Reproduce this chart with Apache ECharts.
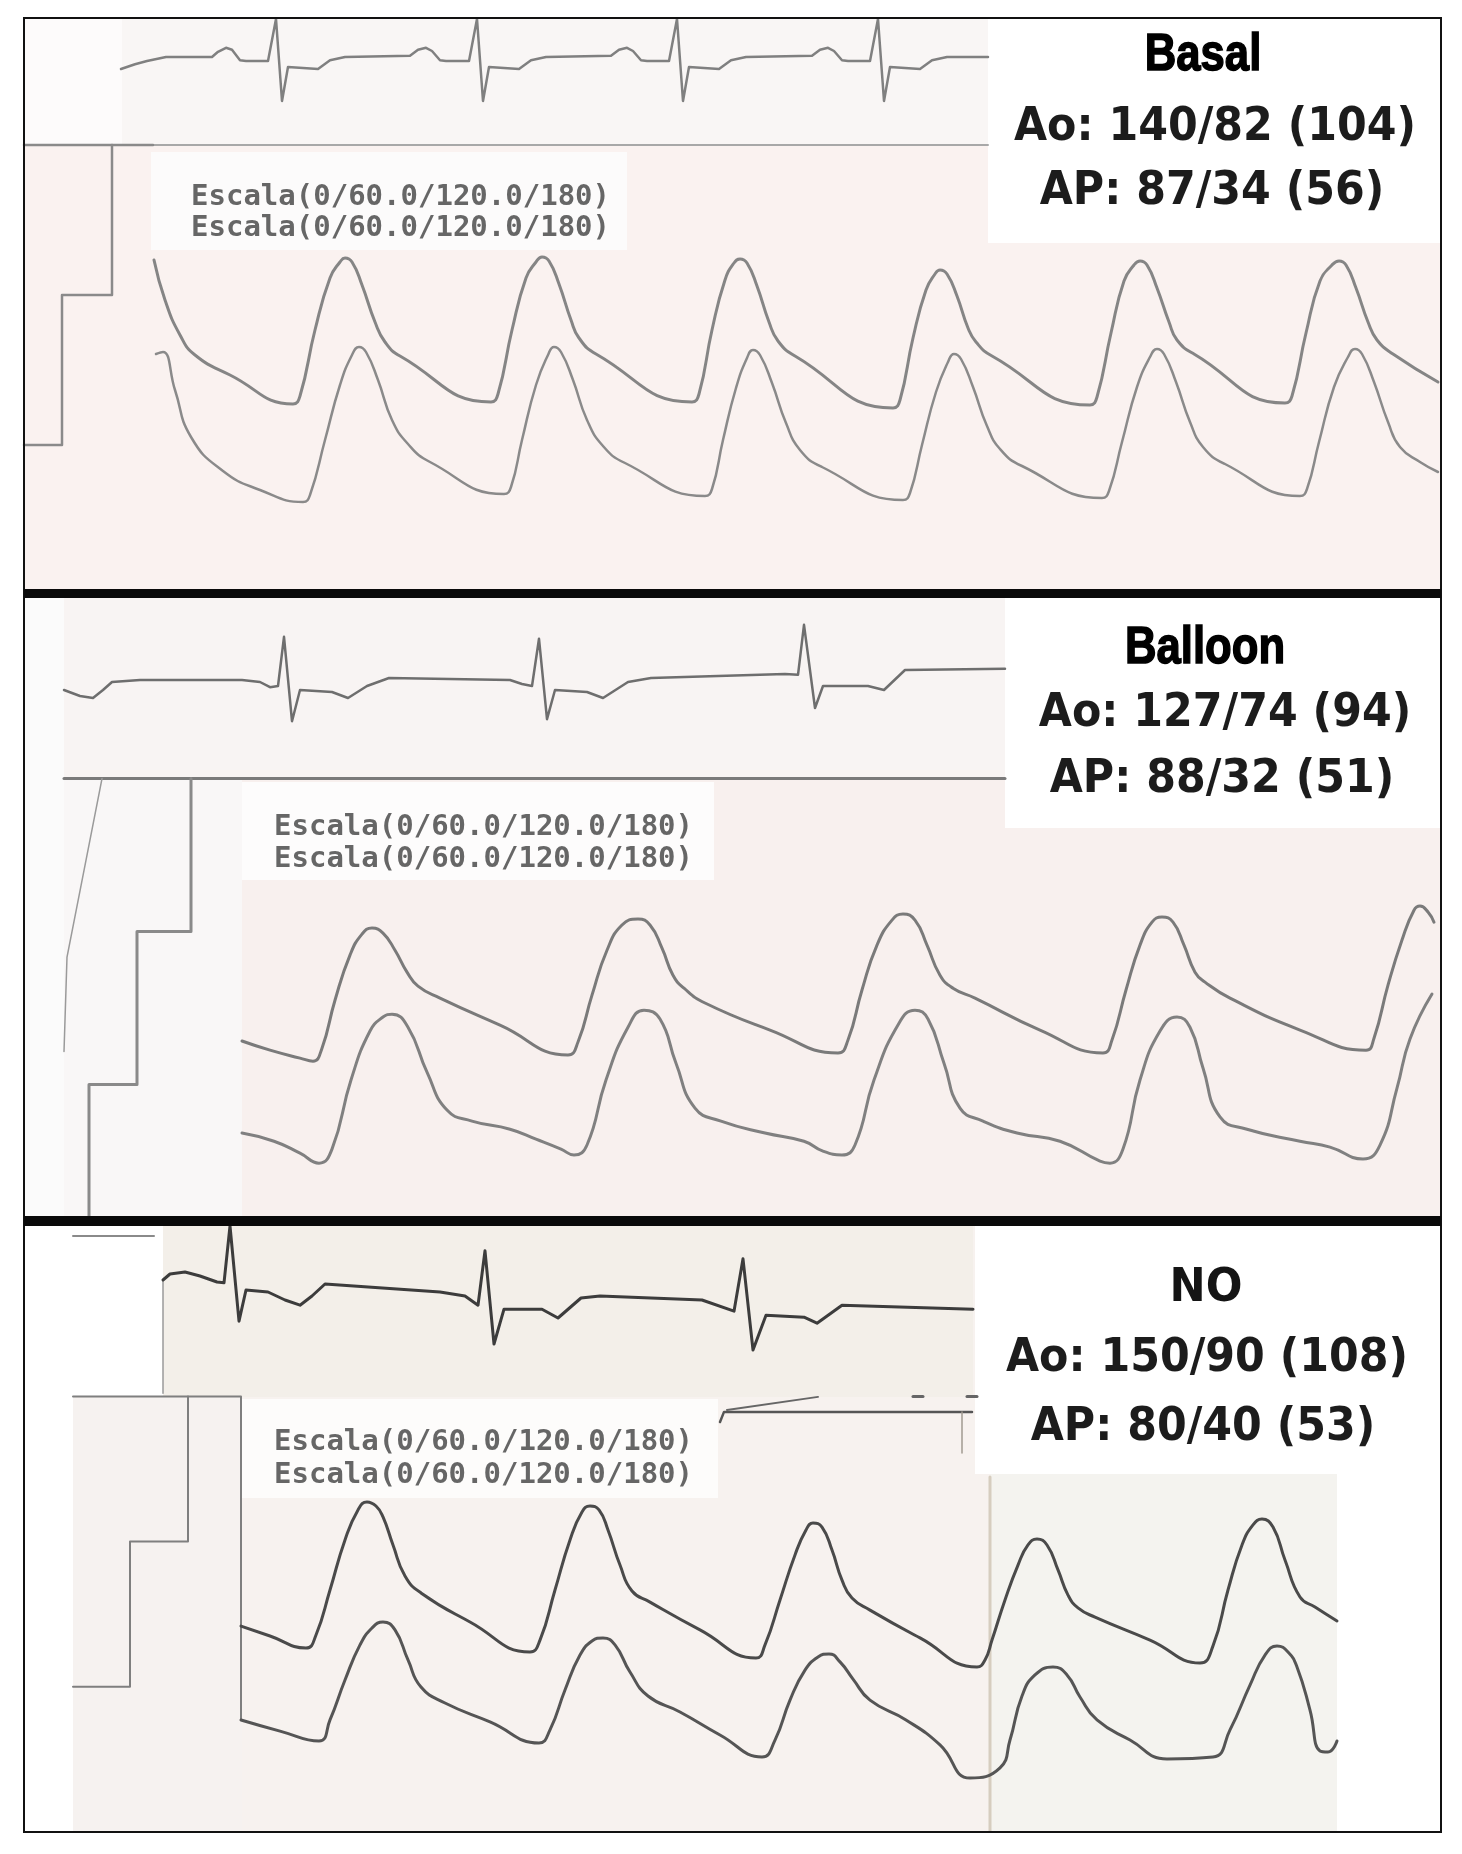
<!DOCTYPE html>
<html>
<head>
<meta charset="utf-8">
<script src="https://cdn.jsdelivr.net/npm/echarts@6.0.0/dist/echarts.min.js"></script>
<style>
  html, body { margin: 0; padding: 0; background: #fff; }
  #chart { width: 1462px; height: 1854px; }
</style>
</head>
<body>
<div id="chart"></div>
<script>
// x = time in ms, ECG in mV, pressures in mmHg (scale 0/60/120/180)
const panelTitles = ['Basal', 'Balloon', 'NO'];
const aoLabels = ['Ao: 140/82 (104)', 'Ao: 127/74 (94)', 'Ao: 150/90 (108)'];
const apLabels = ['AP: 87/34 (56)', 'AP: 88/32 (51)', 'AP: 80/40 (53)'];
const scaleText = 'Escala(0/60.0/120.0/180)';

// ---- Basal ----
const basalEcg = [[388,-0.3],[444,-0.18],[492,-0.1],[568,0],[752,0],[776,0.13],[808,0.23],[832,0.18],[864,-0.08],[888,-0.1],[976,-0.1],[1008,0.95],[1032,-1.1],[1056,-0.25],[1176,-0.3],[1224,-0.08],[1284,0],[1544,0.03],[1576,0.18],[1608,0.23],[1632,0.15],[1664,-0.08],[1688,-0.1],[1780,-0.1],[1812,0.95],[1836,-1.1],[1860,-0.25],[1980,-0.3],[2028,-0.08],[2088,0],[2348,0.03],[2380,0.18],[2412,0.23],[2436,0.15],[2468,-0.08],[2492,-0.1],[2580,-0.1],[2612,0.95],[2636,-1.1],[2660,-0.25],[2780,-0.3],[2828,-0.08],[2888,0],[3152,0.03],[3184,0.18],[3216,0.23],[3240,0.15],[3272,-0.08],[3296,-0.1],[3384,-0.1],[3416,0.95],[3440,-1.1],[3464,-0.25],[3584,-0.3],[3632,-0.08],[3692,0],[3856,0]];
const basalAo = [[520,134],[564,118],[624,104],[684,96],[824,88],[1076,76.4],[1104,79.6],[1164,106],[1224,126.8],[1264,133.2],[1284,134.8],[1312,133.2],[1352,124],[1404,109.2],[1444,101.2],[1504,95.6],[1868,77.2],[1896,80.4],[1952,106],[2008,126.8],[2048,133.2],[2072,135.2],[2100,133.6],[2140,124.4],[2188,110],[2220,102.8],[2288,96.4],[2672,77.2],[2700,80.4],[2752,106],[2804,126],[2840,132.8],[2864,134.4],[2892,132.8],[2932,123.6],[2980,109.2],[3016,101.6],[3084,95.6],[3476,74.8],[3504,78],[3556,102.8],[3608,122],[3644,128.4],[3664,130],[3692,128.4],[3732,119.6],[3776,106.8],[3808,101.2],[3872,95.6],[4264,76],[4292,79.2],[4348,104.8],[4400,125.6],[4440,132],[4464,133.6],[4492,132],[4532,122.8],[4580,109.2],[4612,102],[4680,96.4],[5044,76.8],[5072,79.6],[5128,104.8],[5184,125.6],[5232,132],[5260,133.6],[5288,132],[5328,122.8],[5376,109.2],[5412,102],[5476,96.4],[5656,85.2]];
const basalAp = [[528,96.4],[556,97.2],[604,82],[668,63.2],[796,49.6],[944,42],[1116,37.2],[1144,40],[1204,62],[1264,84],[1312,96],[1340,99.2],[1368,97.2],[1416,86],[1472,70],[1536,60.4],[1624,53.2],[1920,40.4],[1948,43.2],[1992,62],[2048,84],[2096,96],[2120,99.2],[2148,97.2],[2196,86],[2252,70],[2316,59.6],[2404,52.8],[2724,39.6],[2752,42.4],[2796,62],[2848,82.8],[2892,94.8],[2916,98],[2944,96],[2992,84.8],[3048,68.8],[3104,58],[3192,51.2],[3516,38],[3544,40.8],[3592,60],[3648,81.2],[3696,93.2],[3720,96.4],[3748,94.4],[3796,83.2],[3852,67.6],[3904,58.4],[3992,51.6],[4312,38.8],[4340,41.6],[4392,61.2],[4452,83.2],[4504,95.2],[4532,98.4],[4560,96.4],[4608,85.2],[4664,69.2],[4716,59.2],[4804,52.4],[5104,39.6],[5132,42.4],[5180,61.2],[5240,83.2],[5296,95.2],[5324,98.4],[5352,96.4],[5400,85.2],[5456,69.2],[5504,59.2],[5584,53.2],[5656,49.2]];
const basalSteps = [[0,60],[152,60],[152,120],[352,120],[352,180]];
const basalScaleTop = [[0,180],[516,180]];
const basalScaleLine = [[516,180],[3856,180]];

// ---- Balloon ----
const balloonEcg = [[160,-0.25],[224,-0.4],[276,-0.45],[316,-0.25],[352,-0.05],[464,0],[872,0],[944,-0.05],[984,-0.18],[1016,-0.15],[1040,1.08],[1072,-1.03],[1104,-0.25],[1232,-0.3],[1296,-0.45],[1372,-0.15],[1460,0.05],[1944,0],[1992,-0.1],[2032,-0.15],[2060,1.03],[2092,-0.98],[2124,-0.25],[2252,-0.3],[2316,-0.45],[2416,-0.05],[2508,0.05],[3044,0.15],[3096,0.13],[3120,1.38],[3164,-0.7],[3196,-0.15],[3376,-0.15],[3440,-0.25],[3524,0.25],[3924,0.28]];
const balloonAo = [[872,77.1],[984,73.5],[1104,70.4],[1156,69.2],[1192,74.3],[1244,93.1],[1304,110.8],[1352,119],[1392,121.4],[1436,119.4],[1484,112.7],[1532,104.1],[1576,98.6],[1664,93.9],[1904,83.3],[2176,71.6],[2216,76.7],[2272,95.1],[2332,112.7],[2392,122.6],[2456,124.9],[2504,122.6],[2552,113.5],[2596,102.9],[2640,97.8],[2724,92],[2984,81.4],[3256,72.4],[3296,77.5],[3352,97.1],[3412,114.7],[3472,124.5],[3516,126.9],[3564,124.5],[3612,114.7],[3664,102.9],[3716,97.8],[3804,93.9],[4064,81.4],[4316,72.4],[4352,77.5],[4408,97.1],[4464,114.7],[4512,123.7],[4552,125.7],[4596,123.7],[4640,114.7],[4684,104.1],[4724,100.2],[4824,93.9],[5104,81.4],[5368,73.5],[5400,78.2],[5456,99],[5512,116.7],[5560,128.4],[5584,130],[5616,127.7],[5640,123.7]];
const balloonAp = [[872,41],[1000,37.8],[1104,33.1],[1180,29.2],[1232,34.7],[1308,61.8],[1384,81],[1436,86.5],[1472,87.6],[1536,82.5],[1612,64.9],[1692,50],[1792,45.7],[1944,42.5],[2048,38.6],[2148,34.7],[2200,32.4],[2252,36.3],[2328,61.8],[2416,82.5],[2480,89.2],[2544,85.7],[2608,68.4],[2684,50.8],[2788,45.7],[2964,41],[3120,37.8],[3196,33.9],[3272,32.4],[3324,36.3],[3400,61.8],[3500,84.1],[3564,89.2],[3616,85.7],[3680,68.4],[3744,50.8],[3836,45.7],[3972,41],[4144,37.8],[4304,30],[4344,29.2],[4396,34.7],[4464,61.8],[4544,81],[4612,86.5],[4664,82.5],[4716,66.5],[4784,47.3],[4892,42.5],[5104,37.8],[5224,35.5],[5356,30.8],[5424,36.3],[5492,58.6],[5544,77.9],[5632,95.5]];
const balloonSteps = [[260,7.6],[260,60],[452,60],[452,120],[668,120],[668,180]];
const balloonScaleLine = [[160,180],[3924,180]];
const balloonDrift = [[312,180],[172,110],[160,73]];

// ---- NO ----
const noEcg = [[556,0.3],[584,0.45],[644,0.5],[704,0.4],[772,0.25],[800,0.23],[824,1.65],[860,-0.73],[888,0.05],[976,0],[1044,-0.2],[1104,-0.33],[1152,-0.1],[1204,0.2],[1664,0],[1764,-0.1],[1816,-0.33],[1844,1.03],[1880,-1.3],[1920,-0.43],[2072,-0.43],[2136,-0.65],[2228,-0.15],[2304,-0.1],[2712,-0.2],[2840,-0.48],[2876,0.83],[2916,-1.45],[2968,-0.58],[3120,-0.63],[3172,-0.78],[3272,-0.33],[3796,-0.43]];
const noAo = [[868,85.1],[984,81],[1128,76],[1168,81.4],[1224,100],[1284,120.7],[1336,133.1],[1372,136.4],[1408,134.7],[1436,130.2],[1476,118.6],[1524,105.8],[1588,98.8],[1784,86.8],[2024,74.4],[2064,79.3],[2124,100],[2184,120.7],[2232,132.2],[2264,134.7],[2300,133.1],[2336,124.8],[2384,110.3],[2432,99.6],[2504,95],[2704,83.5],[2928,71.9],[2964,77.3],[3024,95.9],[3084,114.5],[3128,124.8],[3156,127.7],[3192,126],[3232,116.5],[3272,104.1],[3312,96.7],[3384,91.7],[3584,80.2],[3812,68.2],[3844,71.1],[3872,79.3],[3924,95.9],[3976,110.3],[4016,118.6],[4052,121.1],[4092,118.6],[4136,108.3],[4176,97.9],[4216,92.6],[4284,88.8],[4504,79.3],[4704,69.8],[4756,76.9],[4816,100],[4872,118.6],[4916,126.9],[4952,129.3],[4996,126],[5044,112.4],[5104,97.1],[5164,93],[5252,87.2]];
const noAp = [[868,46.3],[1024,41.7],[1180,37.6],[1224,46.3],[1284,62.8],[1344,77.3],[1392,84.3],[1436,86.8],[1484,83.5],[1536,71.1],[1588,59.9],[1684,53.3],[1864,45.5],[2060,36.8],[2104,42.2],[2164,58.7],[2224,73.1],[2272,78.9],[2316,80.2],[2364,77.3],[2424,66.1],[2496,56.2],[2624,49.6],[2784,40.1],[2952,31],[3004,38],[3064,54.5],[3124,66.9],[3176,72.3],[3220,73.6],[3264,70.3],[3316,63.2],[3384,54.5],[3528,46.3],[3664,36],[3784,22.3],[3904,26.5],[3944,38],[3992,56.2],[4044,64.9],[4116,68.2],[4172,64.9],[4224,55.8],[4292,46.3],[4424,38],[4572,30.2],[4756,31],[4824,42.2],[4904,60.7],[4964,73.1],[5012,76.9],[5056,74.4],[5092,68.2],[5144,50.4],[5184,33.5],[5216,33.1],[5252,37.6]];
const noSteps = [[196,60],[424,60],[424,120],[656,120],[656,180]];
const noScaleTop = [[196,180],[868,180],[868,46.3]];
const noMarker = [[2784,169.4],[2800,173.6],[3792,173.6]];
const noMarkerSlope = [[2812,174.4],[3176,179.8]];
const noTickA = [[3556,180],[3596,180]];
const noTickB = [[3772,180],[3812,180]];
const noTickV = [[3752,173.6],[3752,156.6]];
const noPaperEdge = [[3864,146.7],[3864,0.4]];
const noEcgEdge = [[556,0.3],[556,-2.53]];
const noEcgTopLeft = [[196,1.4],[520,1.4]];

// ---- chart ----
const grids = [], xAxes = [], yAxes = [], series = [];

function addGrid(top, height, min, max) {
  const i = grids.length;
  grids.push({ left: 24, top: top, width: 1417, height: height });
  xAxes.push({ type: 'value', gridIndex: i, min: 0, max: 5668, show: false });
  yAxes.push({ type: 'value', gridIndex: i, min: min, max: max, show: false });
  return i;
}

function addLine(gi, data, color, width, smooth) {
  series.push({
    type: 'line', xAxisIndex: gi, yAxisIndex: gi, data: data,
    symbol: 'none', silent: true, clip: false,
    smooth: smooth || false,
    lineStyle: { color: color, width: width, cap: 'round', join: 'round' }
  });
}

// Basal
let g = addGrid(17, 100, -1.5, 1);
addLine(g, basalEcg, '#808080', 2.5);
g = addGrid(145, 450, 0, 180);
addLine(g, basalScaleLine, '#a8a8a8', 2);
addLine(g, basalScaleTop, '#8a8a8a', 2.5);
addLine(g, basalSteps, '#8a8a8a', 2.5);
addLine(g, basalAo, '#858585', 3, 0.5);
addLine(g, basalAp, '#8a8a8a', 2.5, 0.5);

// Balloon
g = addGrid(620, 140, -2, 1.5);
addLine(g, balloonEcg, '#6e6e6e', 2.5);
g = addGrid(778.6, 459, 0, 180);
addLine(g, balloonScaleLine, '#7a7a7a', 3);
addLine(g, balloonSteps, '#8a8a8a', 3);
addLine(g, balloonDrift, '#9a9a9a', 1.5);
addLine(g, balloonAo, '#7a7a7a', 3, 0.5);
addLine(g, balloonAp, '#808080', 3, 0.5);

// NO
g = addGrid(1212, 200, -3, 2);
addLine(g, noEcgTopLeft, '#8a8a8a', 2);
addLine(g, noEcgEdge, '#9a9a9a', 1.5);
addLine(g, noEcg, '#3c3c3c', 3);
g = addGrid(1396.4, 435.6, 0, 180);
addLine(g, noPaperEdge, '#d6cdbf', 3);
addLine(g, noScaleTop, '#7f7f7f', 2);
addLine(g, noSteps, '#7f7f7f', 2);
addLine(g, noMarker, '#555555', 2.5);
addLine(g, noMarkerSlope, '#666666', 2);
addLine(g, noTickA, '#666666', 3);
addLine(g, noTickB, '#666666', 3);
addLine(g, noTickV, '#a09a90', 1.5);
addLine(g, noAo, '#4a4a4a', 3, 0.5);
addLine(g, noAp, '#555555', 3, 0.5);

// paper backgrounds (under the traces)
function rect(x, y, w, h, fill) {
  return { type: 'rect', z: 0, silent: true, shape: { x: x, y: y, width: w, height: h }, style: { fill: fill } };
}
const backgrounds = [
  rect(24, 18, 1417, 571, '#faf2f0'),
  rect(24, 18, 98, 127, '#fdfbfb'),
  rect(122, 18, 866, 127, '#f9f6f5'),
  rect(151, 152, 476, 98, '#fcfbfb'),
  rect(988, 18, 453, 225, '#ffffff'),
  rect(24, 598, 1417, 618, '#f8f0ee'),
  rect(64, 598, 941, 181, '#f8f4f3'),
  rect(24, 598, 40, 618, '#fbfbfb'),
  rect(64, 779, 178, 437, '#f9f7f7'),
  rect(242, 782, 472, 98, '#fdfcfc'),
  rect(1005, 598, 436, 230, '#ffffff'),
  rect(24, 1226, 1417, 606, '#f7f2ef'),
  rect(24, 1226, 139, 171, '#ffffff'),
  rect(24, 1397, 49, 435, '#ffffff'),
  rect(163, 1226, 810, 171, '#f3efe9'),
  rect(73, 1397, 169, 435, '#f6f2f0'),
  rect(242, 1399, 476, 99, '#fdfcfb'),
  rect(990, 1474, 347, 358, '#f4f3ef'),
  rect(1337, 1474, 104, 358, '#ffffff'),
  rect(975, 1226, 466, 248, '#ffffff')
];

// frame and separators on top
const frame = [
  { type: 'rect', z: 100, silent: true, shape: { x: 24, y: 18, width: 1417, height: 1814 }, style: { fill: 'none', stroke: '#111', lineWidth: 2 } },
  { type: 'rect', z: 100, silent: true, shape: { x: 24, y: 589, width: 1417, height: 9 }, style: { fill: '#0a0a0a' } },
  { type: 'rect', z: 100, silent: true, shape: { x: 24, y: 1216, width: 1417, height: 10 }, style: { fill: '#0a0a0a' } }
];

function text(str, x, y, font, fill, align, sx, stroke) {
  const style = { text: str, font: font, fill: fill, textAlign: align || 'center', textVerticalAlign: 'middle' };
  if (stroke) { style.stroke = fill; style.lineWidth = stroke; }
  return { type: 'text', z: 101, silent: true, x: x, y: y, scaleX: sx || 1, style: style };
}
const titleFont = 'bold 52px "Liberation Sans", Arial, sans-serif';
const valueFont = 'bold 47px "DejaVu Sans", Verdana, sans-serif';
const monoFont = 'bold 29px "DejaVu Sans Mono", "Liberation Mono", monospace';

const labelPos = [
  { cx: [1203, 1215, 1212], cy: [56, 128, 192], esc: [191, 197, 228] },
  { cx: [1205, 1225, 1222], cy: [649, 714, 780], esc: [274, 827, 859] },
  { cx: [1206, 1207, 1203], cy: [1289, 1359, 1428], esc: [274, 1442, 1475] }
];
const labels = [];
labelPos.forEach(function (p, i) {
  if (i === 2) labels.push(text(panelTitles[i], p.cx[0], p.cy[0], valueFont, '#141414', 'center', 0.92));
  else labels.push(text(panelTitles[i], p.cx[0], p.cy[0], titleFont, '#000000', 'center', 0.84, 1.5));
  labels.push(text(aoLabels[i], p.cx[1], p.cy[1], valueFont, '#1c1c1c', 'center', 0.91));
  labels.push(text(apLabels[i], p.cx[2], p.cy[2], valueFont, '#1c1c1c', 'center', 0.91));
  labels.push(text(scaleText, p.esc[0], p.esc[1], monoFont, '#666666', 'left'));
  labels.push(text(scaleText, p.esc[0], p.esc[2], monoFont, '#666666', 'left'));
});

const chart = echarts.init(document.getElementById('chart'));
chart.setOption({
  animation: false,
  backgroundColor: '#ffffff',
  grid: grids,
  xAxis: xAxes,
  yAxis: yAxes,
  series: series,
  graphic: { elements: backgrounds.concat(frame, labels) }
});
</script>
</body>
</html>
